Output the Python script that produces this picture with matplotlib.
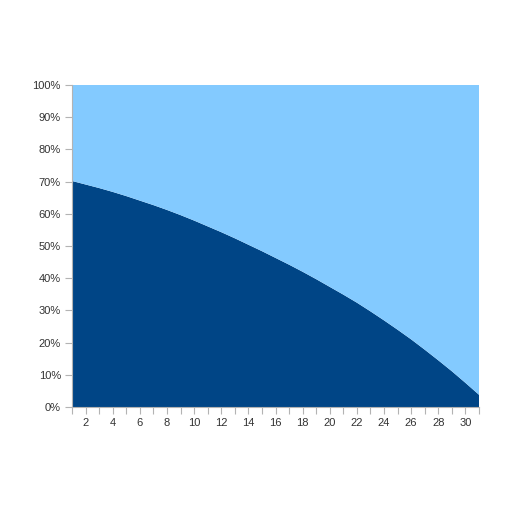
import matplotlib
matplotlib.use("Agg")
import matplotlib.pyplot as plt

# categories 1..31, share of the lower (dark) series in percent
x = list(range(1, 32))
lower = [70.2, 69.1, 68.0, 66.8, 65.5, 64.1, 62.7, 61.2, 59.6, 57.9,
         56.1, 54.3, 52.4, 50.4, 48.4, 46.3, 44.2, 42.0, 39.7, 37.3,
         34.9, 32.4, 29.7, 26.9, 24.0, 21.0, 17.8, 14.5, 11.1, 7.5, 3.8]
upper = [100 - v for v in lower]

dark = "#004586"
light = "#83caff"

plt.rcParams["font.family"] = ["Liberation Sans", "DejaVu Sans"]

fig = plt.figure(figsize=(5.12, 5.12), dpi=100)
ax = fig.add_axes([72 / 512, 1 - 407 / 512, 407 / 512, 322 / 512])

ax.stackplot(x, lower, upper, colors=[dark, light], linewidth=0)

ax.set_xlim(1, 31)
ax.set_ylim(0, 100)

ax.set_yticks(range(0, 101, 10))
ax.set_yticklabels([f"{v}%" for v in range(0, 101, 10)])
ax.set_xticks(x)
ax.set_xticklabels([str(v) if v % 2 == 0 else "" for v in x])

for s in ["top", "right"]:
    ax.spines[s].set_visible(False)
for s in ["left", "bottom"]:
    ax.spines[s].set_color("#b3b3b3")
    ax.spines[s].set_linewidth(0.8)

ax.tick_params(axis="both", colors="#b3b3b3", length=5, width=0.8,
               labelsize=8, labelcolor="#333333", pad=3)

fig.savefig("out.png", dpi=100)
